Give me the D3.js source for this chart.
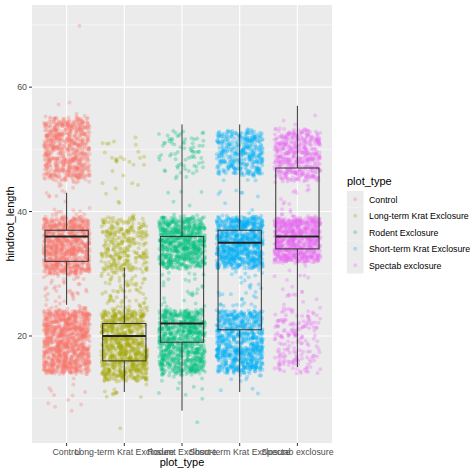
<!DOCTYPE html>
<html><head><meta charset="utf-8">
<script src="https://cdn.jsdelivr.net/npm/d3@7"></script>
<style>body{margin:0;background:#fff}text{font-family:"Liberation Sans",Arial,sans-serif}</style>
</head><body><svg id="c" width="474" height="474"></svg>
<script>
const categories=["Control","Long-term Krat Exclosure","Rodent Exclosure","Short-term Krat Exclosure","Spectab exclosure"];
const colors=["#F8766D","#A3A500","#00BF7D","#00B0F6","#E76BF3"];
// box stats: [lowWhisker, q1, median, q3, highWhisker]
const boxStats=[[25,32,36,37,43],[11,16,20,22,31],[8,19,22,36,54],[11,21,35,37,54],[15,34,36,47,57]];
// point bands per group: [low, high, count]
const pointBands=[
 [[14,24,1000],[24,30,50],[30,39,800],[39,45,25],[45,55,650],[8,14,12],[55,58,5],[70,70,1]],
 [[13,24,800],[24,30,70],[30,39,280],[39,45,8],[45,52,22],[10,13,12],[5,5,1]],
 [[14,24,800],[24,31,30],[31,39,700],[39,46,10],[46,53,70],[10,14,10],[6,6,1]],
 [[14,24,750],[24,31,35],[31,39,800],[39,46,15],[46,53,380],[11,14,8]],
 [[14,24,180],[24,32,25],[32,39,750],[39,45,20],[45,53,450],[53,56,5]]
];
const yTicks=[20,40,60], yMinor=[10,30,50,70];
const svg=d3.select("#c");
const L=32,R=332,T=5,B=443;
const step=(R-L)/(categories.length-1+1.2);
const cx=i=>L+step*0.6+i*step;
const y=d3.scaleLinear().domain([2.8,73.2]).range([B,T]);
svg.append("rect").attr("x",L).attr("y",T).attr("width",R-L).attr("height",B-T).attr("fill","#EBEBEB");
yMinor.forEach(v=>svg.append("line").attr("x1",L).attr("x2",R).attr("y1",y(v)).attr("y2",y(v)).attr("stroke","#fff").attr("stroke-width",0.5));
yTicks.forEach(v=>svg.append("line").attr("x1",L).attr("x2",R).attr("y1",y(v)).attr("y2",y(v)).attr("stroke","#fff").attr("stroke-width",1.1));
categories.forEach((c,i)=>svg.append("line").attr("x1",cx(i)).attr("x2",cx(i)).attr("y1",T).attr("y2",B).attr("stroke","#fff").attr("stroke-width",1.1));
function h(n){let s=Math.sin(n*12.9898+78.233)*43758.5453;return s-Math.floor(s);}
const g=svg.append("g");
let k=0;
pointBands.forEach((bands,i)=>{
 bands.forEach(([lo,hi,n])=>{
  for(let j=0;j<n;j++){k++;
   const v=lo+(hi-lo)*h(k*3.1);
   const jx=(h(k*7.7)-0.5)*2*step*0.4;
   const jy=(h(k*5.3)-0.5)*0.8;
   g.append("circle").attr("cx",cx(i)+jx).attr("cy",y(v+jy)).attr("r",2).attr("fill",colors[i]).attr("opacity",0.3);
  }
 });
});
const bw=step*0.75;
boxStats.forEach((s,i)=>{
 const c=cx(i);
 svg.append("line").attr("x1",c).attr("x2",c).attr("y1",y(s[0])).attr("y2",y(s[1])).attr("stroke","#333").attr("stroke-width",1);
 svg.append("line").attr("x1",c).attr("x2",c).attr("y1",y(s[3])).attr("y2",y(s[4])).attr("stroke","#333").attr("stroke-width",1);
 svg.append("rect").attr("x",c-bw/2).attr("y",y(s[3])).attr("width",bw).attr("height",y(s[1])-y(s[3])).attr("fill","none").attr("stroke","#333").attr("stroke-width",1);
 svg.append("line").attr("x1",c-bw/2).attr("x2",c+bw/2).attr("y1",y(s[2])).attr("y2",y(s[2])).attr("stroke","#222").attr("stroke-width",2);
});
yTicks.forEach(v=>{
 svg.append("line").attr("x1",L-3).attr("x2",L).attr("y1",y(v)).attr("y2",y(v)).attr("stroke","#333");
 svg.append("text").attr("x",L-5).attr("y",y(v)+3).attr("text-anchor","end").attr("font-size",8.8).attr("fill","#4D4D4D").text(v);
});
categories.forEach((c,i)=>{
 svg.append("line").attr("x1",cx(i)).attr("x2",cx(i)).attr("y1",B).attr("y2",B+3).attr("stroke","#333");
 svg.append("text").attr("x",cx(i)).attr("y",B+12).attr("text-anchor","middle").attr("font-size",8.8).attr("fill","#4D4D4D").text(c);
});
svg.append("text").attr("x",(L+R)/2).attr("y",466).attr("text-anchor","middle").attr("font-size",11).text("plot_type");
svg.append("text").attr("transform",`translate(14,${(T+B)/2}) rotate(-90)`).attr("text-anchor","middle").attr("font-size",11).text("hindfoot_length");
svg.append("text").attr("x",347).attr("y",185).attr("font-size",11).text("plot_type");
categories.forEach((c,i)=>{
 const yy=191+i*16.5;
 svg.append("rect").attr("x",347).attr("y",yy).attr("width",16.5).attr("height",16.5).attr("fill","#EBEBEB");
 svg.append("circle").attr("cx",355.2).attr("cy",yy+8.2).attr("r",2).attr("fill",colors[i]).attr("opacity",0.3);
 svg.append("text").attr("x",369).attr("y",yy+11.5).attr("font-size",8.8).text(c);
});
</script></body></html>
